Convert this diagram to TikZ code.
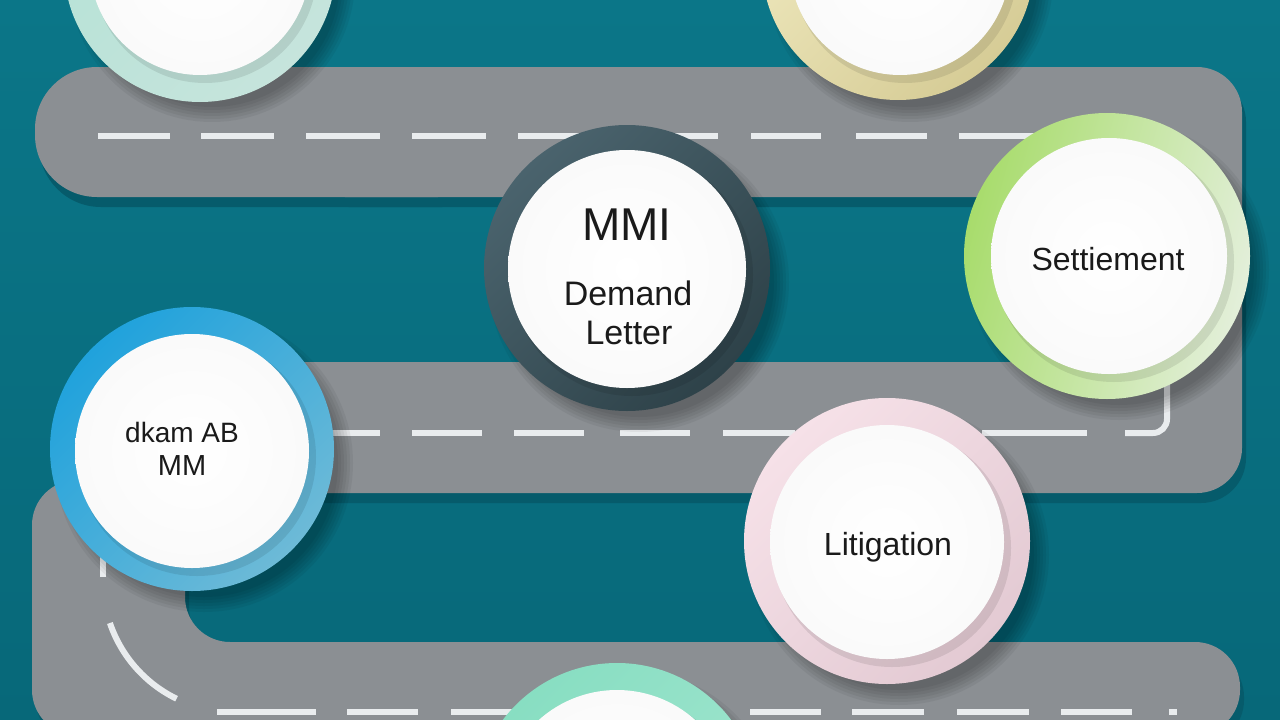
\documentclass[tikz,border=0pt]{standalone}
\usepackage{fontspec}
\setmainfont{Liberation Sans}
\definecolor{bgtop}{HTML}{0B7688}
\definecolor{bgbot}{HTML}{076879}
\definecolor{roadgray}{HTML}{8B8F93}
\definecolor{roadshadow}{HTML}{065B6B}
\definecolor{dashwhite}{HTML}{E9ECEE}
\definecolor{ink}{HTML}{1A1A1A}
\definecolor{mintA}{HTML}{B5E2D6}\definecolor{mintB}{HTML}{C6E4DC}
\definecolor{yelA}{HTML}{F0EAC0}\definecolor{yelB}{HTML}{D6CC96}
\definecolor{slateA}{HTML}{4A636D}\definecolor{slateB}{HTML}{2E4249}
\definecolor{greenA}{HTML}{A8DC6C}\definecolor{greenB}{HTML}{E3EFDA}
\definecolor{blueA}{HTML}{20A2DC}\definecolor{blueB}{HTML}{6DBAD7}
\definecolor{pinkA}{HTML}{F6E1E8}\definecolor{pinkB}{HTML}{E3CAD3}
\definecolor{mbA}{HTML}{88DEC2}\definecolor{mbB}{HTML}{A4E6D0}
\newcommand{\shadowdisc}[3]{\foreach \k in {1,...,6}{\fill[black,opacity=0.05] ({#1+12},{#2+14}) circle[radius={#3+10-3*\k}];}}
\newcommand{\innershade}[3]{\fill[black,opacity=0.09] ({#1+5},{#2+6}) circle[radius={#3+2}];}
\newcommand{\roadB}{(300,67) -- (1242,67) -- (1242,493) -- (185,493) -- (185,642) -- (1240,642) -- (1240,735) -- (32,735) -- (32,480) -- (150,480) -- (150,362) -- (1110,362) -- (1110,197) -- (300,197) -- cycle}
\begin{document}
\begin{tikzpicture}[x=1pt,y=-1pt,
  dashline/.style={draw=dashwhite, line width=6pt},
  disc/.style={circle, inner sep=0pt, outer sep=0pt, draw=none},
  whitedisc/.style={disc, inner color=white, outer color=black!2},
  lbl/.style={text=ink, inner sep=0pt, anchor=base}]
\useasboundingbox (0,0) rectangle (1280,720);
\clip (0,0) rectangle (1280,720);
\shade[top color=bgtop, bottom color=bgbot] (0,0) rectangle (1280,720);
% road shadows
\begin{scope}[shift={(4,10)}]
  \fill[roadshadow, rounded corners=62pt] (35,67) rectangle (500,197);
  \fill[roadshadow, rounded corners=45pt] \roadB;
\end{scope}
% roads
\fill[roadgray, rounded corners=62pt] (35,67) rectangle (500,197);
\fill[roadgray, rounded corners=45pt] \roadB;
% dashes: top road
\foreach \a/\b in {98/170,201/274,306/380,412/486,518/590,640/718,751/821,856/927,959/1040}
  \draw[dashline] (\a,136) -- (\b,136);
% middle road
\foreach \a/\b in {300/380,412/482,514/584,620/690,723/795,830/900,982/1087}
  \draw[dashline] (\a,433) -- (\b,433);
\coordinate (mEnd) at (1125,433);
\coordinate (mTop) at (1167,380);
\draw[dashline, rounded corners=14pt] (mEnd) -- (1167,433) -- (mTop);
% bottom road
\foreach \a/\b in {217/316,347/418,451/520,640/700,750/821,852/924,957/1029,1061/1132,1169/1177}
  \draw[dashline] (\a,712) -- (\b,712);
% left bend
\draw[dashline] (103,540) -- (103,577);
\draw[dashline, domain=161.3:116, samples=30, variable=\t] plot ({234+131*cos(\t)},{581+131*sin(\t)});
% bubbles
% top-left
\shadowdisc{200}{-35}{136}
\node[disc, top color=mintA, bottom color=mintB, shading angle=45, minimum size=272pt] (tlRim) at (200,-34) {};
\innershade{200}{-35}{110}
\node[whitedisc, minimum size=220pt] (tl) at (200,-35) {};
% top-right
\shadowdisc{898}{-35}{136}
\node[disc, top color=yelA, bottom color=yelB, shading angle=45, minimum size=272pt] (trRim) at (898,-36) {};
\innershade{900}{-35}{110}
\node[whitedisc, minimum size=220pt] (tr) at (900,-35) {};
% MMI
\shadowdisc{627}{268}{143}
\node[disc, top color=slateA, bottom color=slateB, shading angle=45, minimum size=286pt] (mmiRim) at (627,268) {};
\innershade{627}{269}{119}
\node[whitedisc, minimum size=238pt] (mmi) at (627,269) {};
\node[lbl, font=\fontsize{46}{50}\selectfont] (mmiT) at (627,240) {MMI};
\node[lbl, font=\fontsize{34}{38}\selectfont] (demT) at (628,305) {Demand};
\node[lbl, font=\fontsize{34}{38}\selectfont] (letT) at (629,344) {Letter};
% Settlement
\shadowdisc{1107}{256}{143}
\node[disc, top color=greenA, bottom color=greenB, shading angle=75, minimum size=286pt] (setRim) at (1107,256) {};
\innershade{1109}{256}{118}
\node[whitedisc, minimum size=236pt] (set) at (1109,256) {};
\node[lbl, font=\fontsize{32}{36}\selectfont] (setT) at (1108,270) {Settiement};
% blue
\shadowdisc{192}{449}{142}
\node[disc, top color=blueA, bottom color=blueB, shading angle=45, minimum size=284pt] (bluRim) at (192,449) {};
\innershade{192}{451}{117}
\node[whitedisc, minimum size=234pt] (blu) at (192,451) {};
\node[lbl, font=\fontsize{28}{32}\selectfont] (bluT1) at (182,442) {dkam AB};
\node[lbl, font=\fontsize{29}{32}\selectfont] (bluT2) at (182,475) {MM};
% Litigation
\shadowdisc{887}{541}{143}
\node[disc, top color=pinkA, bottom color=pinkB, shading angle=45, minimum size=286pt] (litRim) at (887,541) {};
\innershade{887}{542}{117}
\node[whitedisc, minimum size=234pt] (lit) at (887,542) {};
\node[lbl, font=\fontsize{32}{36}\selectfont] (litT) at (888,555) {Litigation};
% bottom mint
\shadowdisc{617}{806}{143}
\node[disc, top color=mbA, bottom color=mbB, shading angle=45, minimum size=286pt] (botRim) at (617,806) {};
\innershade{617}{807}{117}
\node[whitedisc, minimum size=234pt] (bot) at (617,807) {};
\end{tikzpicture}
\end{document}
